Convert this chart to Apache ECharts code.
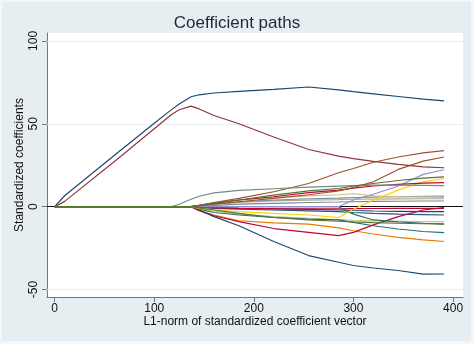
<!DOCTYPE html>
<html><head><meta charset="utf-8">
<script src="https://cdn.jsdelivr.net/npm/echarts@6/dist/echarts.min.js"></script>
<style>html,body{margin:0;padding:0;background:#F4F7F8}#c{width:474px;height:344px}</style>
</head><body><div id="c"></div>
<script>
// ---- data ----
const title = "Coefficient paths";
const xName = "L1-norm of standardized coefficient vector";
const yName = "Standardized coefficients";
const xTicks = [0, 100, 200, 300, 400];
const yTicks = [-50, 0, 50, 100];
const l1Norm = [0, 10, 60, 100, 117, 125, 137, 145, 160, 185, 220, 255, 285, 300, 320, 345, 370, 391];

const navyTop     = [0, 6.6, 31, 50.3, 58.4, 62, 66.3, 67.5, 68.6, 69.6, 70.8, 72.2, 70.5, 69.4, 68.1, 66.5, 64.9, 63.8];
const maroonTop   = [0, 3.2, 27.3, 47, 55.5, 58.5, 60.7, 59, 55, 50, 42, 34.5, 30.5, 29, 27.3, 25.5, 24, 23.5];
const teal1       = [0, 0, 0, 0, 0, 1.5, 4.5, 6.3, 8.3, 9.8, 10.8, 11.8, 12.4, 12.7, 13, 13, 12.9, 12.7];
const sienna1     = [0, 0, 0, 0, 0, 0, 0, 0.8, 2.5, 5, 9, 14, 20.5, 23, 26.8, 30, 32.5, 33.8];
const sienna2     = [0, 0, 0, 0, 0, 0, 0, 0.5, 1.5, 3, 5, 7.2, 9.5, 11.5, 15, 22.5, 27.5, 30];
const forest1     = [0, 0, 0, 0, 0, 0, 0, 0.8, 2.3, 4, 7, 9.5, 11, 12.5, 14, 15.8, 17.2, 18];
const cranberry1  = [0, 0, 0, 0, 0, 0, 0, 0.6, 2, 4, 6, 8.5, 10, 11.2, 12.5, 13.5, 14.2, 14.5];
const lavender1   = [0, 0, 0, 0, 0, 0, 0, 0, 0, 0, 0, 0, 0, 4, 7.5, 12.5, 19.5, 22.3];
const gold1       = [0, 0, 0, 0, 0, 0, 0, -1, -2, -3, -4, -5, -6.5, -1.5, 4, 10, 15, 17];
const khaki1      = [0, 0, 0, 0, 0, 0, 0, 0.8, 2, 4, 5.5, 6.5, 7.2, 7.8, 6.5, 6, 5.8, 5.6];
const emidblue1   = [0, 0, 0, 0, 0, 0, 0, 0.5, 1.5, 3, 4, 4.8, 5.2, 5.5, 5.8, 6, 6.3, 6.4];
const emerald1    = [0, 0, 0, 0, 0, 0, 0, 0, 0, 0, 0, 0, 0, -4.5, -8, -9.2, -10, -10.5];
const teal2       = [0, 0, 0, 0, 0, 0, 0, 0.3, 0.8, 1.5, 2, 2.5, 2.8, 3, 3.2, 3.3, 3.4, 3.4];
const erose1      = [0, 0, 0, 0, 0, 0, 0, 0.5, 1.2, 2.5, 3.5, 4, 4.3, 4.5, 4.6, 4.7, 4.8, 4.8];
const navyLow     = [0, 0, 0, 0, 0, 0, 0, -2, -6, -11.5, -21, -29.5, -33.5, -35.5, -37, -38.5, -40.7, -40.6];
const cranberry2  = [0, 0, 0, 0, 0, 0, 0, -2.5, -5.5, -9, -13.2, -15.5, -17.5, -15.5, -11, -6, -2, -0.6];
const dkorange1   = [0, 0, 0, 0, 0, 0, 0, -2, -5, -8.5, -9.8, -10.5, -12.8, -14.5, -16.5, -18.5, -20, -21];
const emerald2    = [0, 0, 0, 0, 0, 0, 0, -1.5, -3.5, -5, -6.5, -7.5, -8, -9.5, -11.5, -13.5, -15, -15.7];
const navyNear1   = [0, 0, 0, 0, 0, 0, 0, -0.5, -1, -1.5, -2, -2.5, -3, -3.5, -4, -4.5, -4.8, -5];
const navyNear2   = [0, 0, 0, 0, 0, 0, 0, 0, -0.5, -1, -1.3, -1.6, -2, -2.3, -2.6, -2.8, -3, -3];
const cranberry3  = [0, 0, 0, 0, 0, 0, 0, -0.3, -0.6, -1, -1.2, -1.3, -1.3, -1.2, -1.1, -1, -1, -1];
const gold2       = [0, 0, 0, 0, 0, 0, 0, -1, -2.5, -4.5, -6, -7, -7.8, -8.2, -8.6, -8.8, -9, -9];
const forest2     = [0, 0, 0, 0, 0, 0, 0, -0.8, -2, -4, -6.5, -8, -8.8, -9.2, -9.6, -10, -10.3, -10.4];

// ---- styles ----
const paths = [
  [teal2, '#6e8e84'], [erose1, '#bfa19c'], [emidblue1, '#7b92a8'], [khaki1, '#cac27e'],
  [navyNear2, '#1a476f'], [navyNear1, '#2a5478'], [cranberry3, '#c10534'],
  [gold2, '#cac27e'], [emerald2, '#2d6d66'], [dkorange1, '#e37e00'], [cranberry2, '#c10534'],
  [navyLow, '#1a476f'], [emerald1, '#2d6d66'], [gold1, '#ffd200'], [lavender1, '#938dd2'],
  [cranberry1, '#c10534'], [sienna2, '#a0522d'], [sienna1, '#a0522d'], [teal1, '#6e8e84'],
  [maroonTop, '#90353b'], [navyTop, '#1a476f'], [forest1, '#55752f'], [forest2, '#55752f']
];

const chart = echarts.init(document.getElementById('c'), null, {renderer: 'canvas'});
const series = [{
  type: 'line', data: [], silent: true, z: 1,
  markLine: {
    silent: true, symbol: 'none', label: {show: false}, z: 1, animation: false,
    data: [
      {yAxis: 100, lineStyle: {color: '#E8EDF0', width: 1, type: 'solid'}},
      {yAxis: 50, lineStyle: {color: '#E8EDF0', width: 1, type: 'solid'}},
      {yAxis: -50, lineStyle: {color: '#E8EDF0', width: 1, type: 'solid'}},
      {yAxis: 0, lineStyle: {color: '#111111', width: 1.2, type: 'solid'}}
    ]
  }
}];
paths.forEach(([vals, col]) => {
  series.push({
    type: 'line', showSymbol: false, symbol: 'none', smooth: false,
    data: l1Norm.map((x, i) => [x, vals[i]]),
    lineStyle: {color: col, width: 1.15}, itemStyle: {color: col}, z: 3
  });
});

chart.setOption({
  animation: false,
  backgroundColor: 'transparent',
  graphic: [{type: 'rect', shape: {x: 2, y: 2, width: 469, height: 339}, style: {fill: '#E7EEF1'}, z: -10}],
  title: {text: title, left: 'center', top: 10, textStyle: {fontFamily: 'Liberation Sans, Arial', fontSize: 17, fontWeight: 'normal', color: '#1c2a3a'}},
  grid: {left: 47, right: 11, top: 33, bottom: 47, show: true, backgroundColor: '#ffffff', borderWidth: 0},
  xAxis: {
    type: 'value', min: -7.7, max: 410,
    name: xName, nameLocation: 'middle', nameGap: 19, nameMoveOverlap: false,
    nameTextStyle: {fontFamily: 'Liberation Sans, Arial', fontSize: 12, color: '#111'},
    axisLine: {show: true, onZero: false, lineStyle: {color: '#6f7a80', width: 1}},
    axisTick: {show: true, length: 5, lineStyle: {color: '#6f7a80'}, customValues: xTicks},
    axisLabel: {customValues: xTicks, margin: 6, fontFamily: 'Liberation Sans, Arial', fontSize: 12, color: '#111'},
    splitLine: {show: false}
  },
  yAxis: {
    type: 'value', min: -54.5, max: 104.8,
    name: yName, nameLocation: 'middle', nameGap: 21, nameMoveOverlap: false,
    nameTextStyle: {fontFamily: 'Liberation Sans, Arial', fontSize: 12, color: '#111'},
    axisLine: {show: true, onZero: false, lineStyle: {color: '#6f7a80', width: 1}},
    axisTick: {show: true, length: 5, lineStyle: {color: '#6f7a80'}, customValues: yTicks},
    axisLabel: {customValues: yTicks, rotate: 90, margin: 7, fontFamily: 'Liberation Sans, Arial', fontSize: 12, color: '#111'},
    splitLine: {show: false}
  },
  series: series
});
</script></body></html>
